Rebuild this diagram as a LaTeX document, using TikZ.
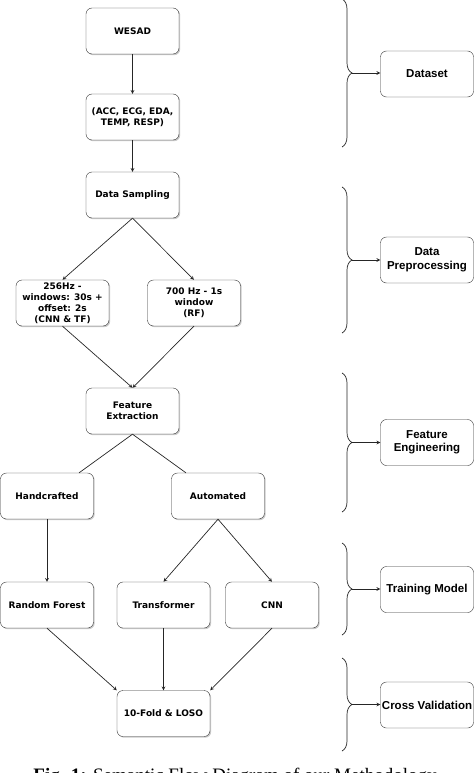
\documentclass[tikz,border=0pt]{standalone}
\usepackage{fontspec}
\newfontfamily\flowfont{DejaVu Sans}
\newfontfamily\stagefont{Liberation Sans}
\newfontfamily\captionfont{Liberation Serif}
\usetikzlibrary{arrows}
\usetikzlibrary{shadows}
\usetikzlibrary{decorations.pathreplacing}

\begin{document}
\begin{tikzpicture}[x=1pt, y=-1pt,
    flow/.style={draw=black!80, rounded corners=6pt, fill=white, minimum width=93pt, minimum height=46pt,
        align=center, inner sep=1pt, font=\flowfont\bfseries\fontsize{9}{11}\selectfont,
        drop shadow={shadow xshift=1.2pt, shadow yshift=-1.2pt, opacity=0.35, fill=black!60}},
    stage/.style={draw=black!80, rounded corners=6pt, minimum width=93pt, minimum height=46pt,
        align=center, inner sep=0pt, font=\stagefont\bfseries\fontsize{11.5}{13.5}\selectfont},
    link/.style={draw=black!85, line width=0.7pt, -stealth},
    plain/.style={draw=black!85, line width=0.7pt},
    stagebrace/.style={draw=black!85, line width=0.7pt, decorate, decoration={brace, amplitude=10pt}}]
        \useasboundingbox (0, 0) rectangle (474, 773);
        \clip (0, 0) rectangle (474, 773);

        % flow
        \node[flow] (wesad) at (132.5, 31) {WESAD};
        \node[flow] (signals) at (132.5, 117) {(ACC, ECG, EDA,\\TEMP, RESP)};
        \node[flow] (sampling) at (132.5, 195) {Data Sampling};
        \node[flow] (hzlow) at (62.5, 303) {256Hz -\\windows: 30s +\\offset: 2s\\(CNN \& TF)};
        \node[flow] (hzhigh) at (194, 303) {700 Hz - 1s\\window\\(RF)};
        \node[flow] (extract) at (132.5, 411) {Feature\\Extraction};
        \node[flow] (hand) at (47, 496) {Handcrafted};
        \node[flow] (auto) at (218, 496) {Automated};
        \node[flow] (forest) at (47, 605) {Random Forest};
        \node[flow] (transf) at (163.5, 605) {Transformer};
        \node[flow] (cnn) at (272, 605) {CNN};
        \node[flow] (valid) at (163.5, 713.5) {10-Fold \& LOSO};

        \draw[link] (wesad) -- (signals);
        \draw[link] (signals) -- (sampling);
        \draw[link] (sampling.south) -- (hzlow.north);
        \draw[link] (sampling.south) -- (hzhigh.north);
        \draw[link] (hzlow.south) -- (extract.north);
        \draw[link] (hzhigh.south) -- (extract.north);
        \draw[plain] (extract.south) -- (hand);
        \draw[plain] (extract.south) -- (auto);
        \draw[link] (hand) -- (forest);
        \draw[link] (auto.south) -- (transf.north);
        \draw[link] (auto.south) -- (cnn.north);
        \draw[link] (forest.south) -- (valid.north west);
        \draw[link] (transf) -- (valid);
        \draw[link] (cnn.south) -- (valid.north east);

        % stages
        \draw[stagebrace] (342, -1) -- (342, 147);
        \draw[stagebrace] (342, 187) -- (342, 333);
        \draw[stagebrace] (342, 373) -- (342, 512);
        \draw[stagebrace] (342, 543) -- (342, 635);
        \draw[stagebrace] (342, 658) -- (342, 751);
        \coordinate (tip1) at (352, 73);
        \coordinate (tip2) at (352, 260);
        \coordinate (tip3) at (352, 442.5);
        \coordinate (tip4) at (352, 589);
        \coordinate (tip5) at (352, 704.5);

        \node[stage] (dataset) at (427, 74) {Dataset};
        \node[stage] (prep) at (427, 260) {Data\\Preprocessing};
        \node[stage] (feateng) at (427, 442.5) {Feature\\Engineering};
        \node[stage] (training) at (427, 589.5) {Training Model};
        \node[stage] (cross) at (427, 705) {Cross Validation};

        \draw[link] (tip1) -- (dataset.west |- tip1);
        \draw[link] (tip2) -- (prep.west |- tip2);
        \draw[link] (tip3) -- (feateng.west |- tip3);
        \draw[link] (tip4) -- (training.west |- tip4);
        \draw[link] (tip5) -- (cross.west |- tip5);

        \node[anchor=base, font=\captionfont\fontsize{19}{19}\selectfont] (caption) at (235, 781)
            {\textbf{Fig. 1:} Semantic Flow Diagram of our Methodology};
\end{tikzpicture}
\end{document}
